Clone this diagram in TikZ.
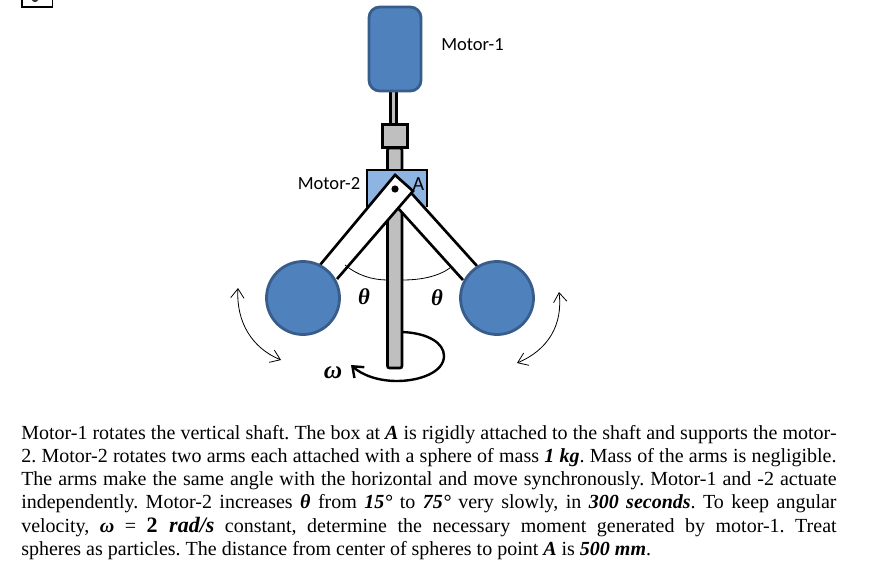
\documentclass[tikz,border=0pt]{standalone}
\usepackage{fontspec}
\usetikzlibrary{arrows.meta}
\setmainfont{Liberation Serif}
\newfontfamily\labelfont{Carlito}
\definecolor{motorblue}{HTML}{4F81BD}
\definecolor{motoredge}{HTML}{385D8A}
\definecolor{boxblue}{HTML}{8EB4E3}
\definecolor{shaftgrey}{HTML}{BFBFBF}
\newcommand{\bi}[1]{\textbf{\textit{#1}}}
\tikzset{
  motorshape/.style={fill=motorblue,draw=motoredge,line width=2.1pt},
  shaftpart/.style={fill=shaftgrey,draw=black,line width=2pt},
  armedge/.style={draw=black,line width=2pt},
  swing/.style={draw=black,line width=0.6pt,{Straight Barb[length=7pt,width=10pt]}-{Straight Barb[length=7pt,width=10pt]}},
  angleline/.style={draw=black,line width=0.6pt},
  partlabel/.style={font=\labelfont\fontsize{13.9}{15}\selectfont,inner sep=0pt},
  greeklabel/.style={font=\fontsize{17}{19}\selectfont\bfseries\itshape,inner sep=0pt},
  bodyline/.style={anchor=base west,inner sep=0pt,font=\fontsize{15}{17}\selectfont\frenchspacing}
}
\begin{document}
\begin{tikzpicture}[x=0.75pt,y=-0.75pt]
\useasboundingbox (0,0) rectangle (877,567);
\clip (0,0) rectangle (877,567);
\fill[white] (0,0) rectangle (877,567);
% cropped box at the top edge
\draw[line width=1.1pt] (22,-2) -- (22,7) -- (52.5,7) -- (52.5,-2);
\fill[black!80] (35,0) ellipse (3 and 2);
% motor 1 and shaft
\draw[shaftpart,line width=1.6pt] (390.5,90) rectangle (396.5,125);
\draw[shaftpart,rounded corners=1.5pt] (387.5,148) rectangle (402,368);
\draw[shaftpart] (382.5,124.5) rectangle (407.5,147.5);
\draw[motorshape,rounded corners=8pt] (369,7) rectangle (421,91);
% motor 2 box
\draw[fill=boxblue,draw=black,line width=2pt] (367,207) -- (367,170) -- (427,170) -- (427,207);
% arms
\fill[white] (395,175) -- (478,267) -- (463,281) -- (397,207) -- cycle;
\draw[armedge] (395,175) -- (477,266);
\draw[armedge] (397,207) -- (463,280);
\fill[white] (395,175) -- (413,191) -- (337,279) -- (320,265) -- cycle;
\draw[armedge,line join=miter] (320,265) -- (395,175) -- (413,191) -- (337,279);
\fill (395,189) circle (3.6);
\node[partlabel,font=\labelfont\fontsize{15}{16}\selectfont] (lblA) at (418.5,184) {A};
% spheres
\draw[motorshape] (303,298) circle (36.5);
\draw[motorshape] (497,298) circle (36.5);
% angle arcs
\coordinate (arcLa) at (345,265);
\coordinate (arcLb) at (387.5,280);
\coordinate (arcRa) at (402,280);
\coordinate (arcRb) at (450,268);
\draw[angleline] (arcLa) .. controls (357,275) and (372,280) .. (arcLb);
\draw[angleline] (arcRa) .. controls (420,280) and (437,277) .. (arcRb);
% swing arrows
\coordinate (swLa) at (238,288);
\coordinate (swLb) at (281,360);
\coordinate (swRa) at (559,292);
\coordinate (swRb) at (517,363);
\draw[swing] (swLa) .. controls (236,322) and (252,348) .. (swLb);
\draw[swing] (swRa) .. controls (563,325) and (548,350) .. (swRb);
% spin arrow
\coordinate (spinA) at (402,332);
\coordinate (spinB) at (351,365);
\draw[line width=1.8pt,-{Straight Barb[length=7pt,width=11pt]}] (spinA) .. controls (428,333) and (444,343) .. (444,356)
  .. controls (444,372) and (420,381) .. (397,381) .. controls (378,381) and (362,375) .. (spinB);
% labels
\node[partlabel,anchor=west] (lblM1) at (441,45) {Motor-1};
\node[partlabel,anchor=east] (lblM2) at (360.5,184) {Motor-2};
\node[greeklabel] (lblThL) at (364,297) {θ};
\node[greeklabel] (lblThR) at (437,298) {θ};
\node[greeklabel,font=\fontsize{19}{21}\selectfont\bfseries\itshape] (lblOm) at (333,373) {ω};
% paragraph
\newcommand{\bodyrow}[1]{\makebox[611.5pt][s]{#1}}
\node[bodyline] (l1) at (21,439) {\bodyrow{Motor-1 rotates the vertical shaft. The box at \bi{A} is rigidly attached to the shaft and supports the motor-}};
\node[bodyline] (l2) at (21,462) {\bodyrow{2. Motor-2 rotates two arms each attached with a sphere of mass \bi{1 kg}. Mass of the arms is negligible.}};
\node[bodyline] (l3) at (21,485.5) {\bodyrow{The arms make the same angle with the horizontal and move synchronously. Motor-1 and -2 actuate}};
\node[bodyline] (l4) at (21,508.5) {\bodyrow{independently. Motor-2 increases \bi{θ} from \bi{15°} to \bi{75°} very slowly, in \bi{300 seconds}. To keep angular}};
\node[bodyline] (l5) at (21,532) {\bodyrow{velocity, \bi{ω} = {\fontsize{16.5}{17}\selectfont\textbf{2} \bi{rad/s}} constant, determine the necessary moment generated by motor-1. Treat}};
\node[bodyline] (l6) at (21,555) {spheres as particles. The distance from center of spheres to point \bi{A} is \bi{500 mm}.};
\end{tikzpicture}
\end{document}
